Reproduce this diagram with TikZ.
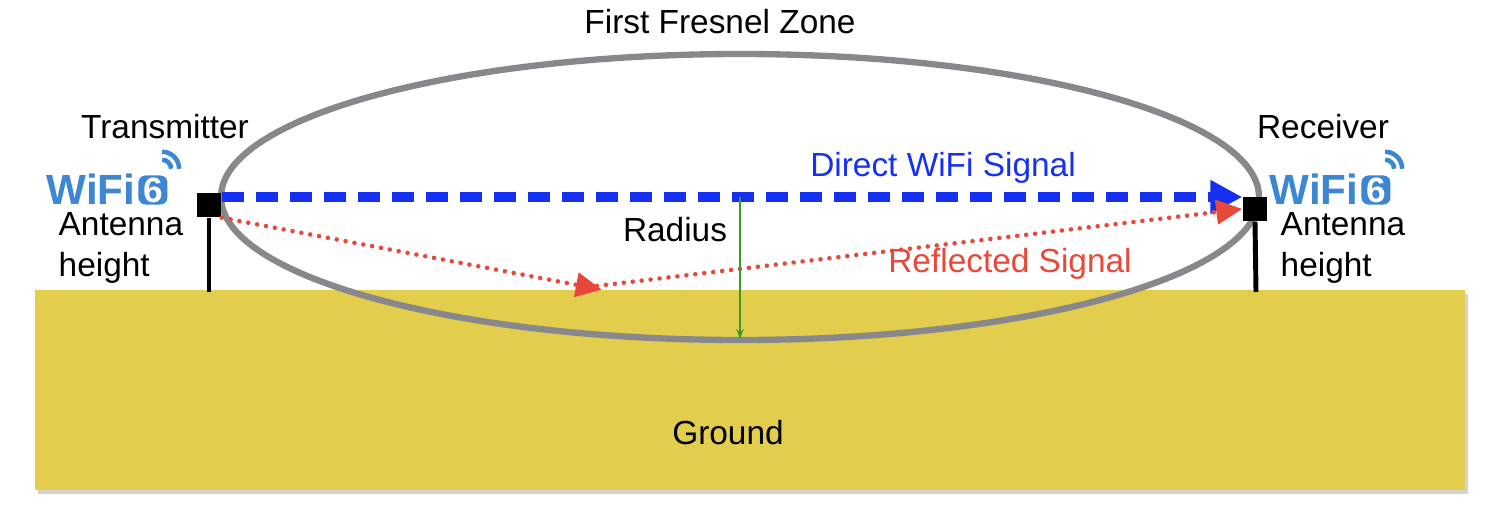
\documentclass[tikz,border=0pt]{standalone}
\usepackage{fontspec}
\setmainfont{Liberation Sans}
\usetikzlibrary{arrows.meta,shadows}
\definecolor{gnd}{HTML}{E2CE4C}
\definecolor{wblue}{HTML}{3C86D2}
\definecolor{sblue}{HTML}{1530F0}
\definecolor{sred}{HTML}{E8483A}
\definecolor{zgray}{HTML}{88888C}
\definecolor{rgreen}{HTML}{3A9A2A}
\tikzset{
 lbl/.style={font=\fontsize{9.5}{11}\selectfont, inner sep=0pt},
 lbll/.style={lbl, align=left, anchor=north west, font=\fontsize{9.5}{11.5}\selectfont},
 ant/.style={fill=black, minimum size=0.24cm, inner sep=0pt},
 pole/.style={line width=1.4pt},
}
\newcommand{\wifisix}{%
 \begin{tikzpicture}[baseline=0pt]
 \node[anchor=base west, inner sep=0pt, text=wblue, font=\bfseries\fontsize{12}{14}\selectfont] (w) at (0,0) {WiFi};
 \node[anchor=south west, fill=wblue, rounded corners=2pt, inner sep=0pt, minimum width=0.29cm, minimum height=0.29cm, text=white, font=\bfseries\fontsize{10}{12}\selectfont] (s) at ([xshift=0.5pt,yshift=-0.3pt]w.base east) {6};
 \draw[wblue, line width=1.3pt] ([xshift=0.03cm,yshift=0.06cm]s.north east) arc (0:90:0.09cm);
 \draw[wblue, line width=1.3pt] ([xshift=0.11cm,yshift=0.06cm]s.north east) arc (0:90:0.17cm);
 \end{tikzpicture}}
\begin{document}
\begin{tikzpicture}[x=0.01cm,y=-0.01cm]
\useasboundingbox (0,0) rectangle (1500,509);
\fill[gnd, drop shadow={shadow xshift=0.03cm, shadow yshift=-0.04cm, opacity=0.35}] (35,290) rectangle (1465,490);
\node[lbl] (ground) at (728,433) {Ground};
\draw[zgray, line width=1.8pt] (740,197) ellipse (519 and 143);
\node[lbl] (title) at (720,22) {First Fresnel Zone};
% antennas
\node[ant] (tx) at (209,205) {};
\node[ant] (rx) at (1255,209) {};
\coordinate (txg) at (209,292);
\coordinate (rxg) at (1256,292);
\draw[pole] (tx.south) -- (txg);
\draw[pole] (rx.south) -- (rxg);
% signals
\coordinate (bounce) at (588,287);
\coordinate (rad) at (740,197);
\coordinate (radb) at (740,339);
\draw[sblue, line width=2.6pt, dash pattern=on 0.22cm off 0.12cm, -{Triangle[length=0.32cm,width=0.32cm]}] (tx.east |- 0,197) -- (rx.west |- 0,197);
\draw[sred, line width=1.3pt, line cap=round, dash pattern=on 0pt off 0.09cm, -{Triangle[length=0.26cm,width=0.24cm]}, shorten >=-4pt] (tx.south east) -- (bounce);
\draw[sred, line width=1.3pt, line cap=round, dash pattern=on 0pt off 0.09cm, -{Triangle[length=0.26cm,width=0.24cm]}] (bounce) -- (rx.west);
\draw[rgreen, line width=0.8pt, -{Stealth[length=0.1cm]}] (rad) -- (radb);
% labels
\node[lbl] (tl) at (165,127) {Transmitter};
\node[lbl] (rl) at (1323,127) {Receiver};
\node[inner sep=0pt] (w1) at (114,177) {\wifisix};
\node[inner sep=0pt] (w2) at (1337,177) {\wifisix};
\node[lbll] (ah1) at (58,212) {Antenna\\height};
\node[lbll] (ah2) at (1280,212) {Antenna\\height};
\node[lbl, text=sblue] (dl) at (943,168) {Direct WiFi Signal};
\node[lbl] (radl) at (675,230) {Radius};
\node[lbl, text=sred] (refl) at (1010,264) {Reflected Signal};
\end{tikzpicture}
\end{document}
